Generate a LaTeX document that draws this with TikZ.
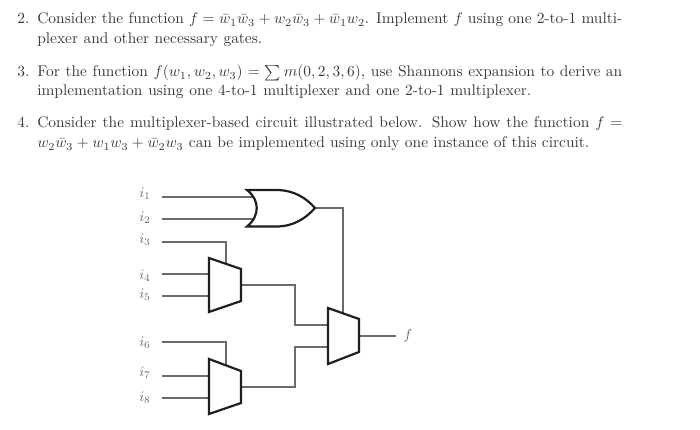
\documentclass[tikz,border=0pt]{standalone}
\usepackage{amsmath}
\newcommand{\fitline}[2]{\makebox[#1pt][s]{#2}}
\tikzset{
  linetext/.style={anchor=base west,inner sep=0pt,text=black!78,font=\fontsize{10}{12}\selectfont,scale=1.546,transform shape},
  inlabel/.style={inner sep=0pt,text=black!60,font=\fontsize{10}{12}\selectfont,scale=1.45,transform shape},
  wire/.style={draw=black!58,line width=1.6pt},
  gate/.style={draw=black!88,line width=2.2pt,line join=miter}
}
\begin{document}
\begin{tikzpicture}[x=1pt,y=-1pt]
  \useasboundingbox (0,0) rectangle (700,430);
  \draw
    (17,24) node[linetext] (n2){2.}
    (37,24) node[linetext] (t1){\fitline{378.4}{Consider the function $f=\bar{w}_1\bar{w}_3+w_2\bar{w}_3+\bar{w}_1w_2$. Implement $f$ using one 2-to-1 multi-}}
    (37,43.5) node[linetext] (t2){\fitline{145.5}{plexer and other necessary gates.}}
    (17,77) node[linetext] (n3){3.}
    (37,77) node[linetext] (t3){\fitline{378.4}{For the function $f(w_1,w_2,w_3)=\sum m(0,2,3,6)$, use Shannons expansion to derive an}}
    (37,96) node[linetext] (t4){\fitline{319.5}{implementation using one 4-to-1 multiplexer and one 2-to-1 multiplexer.}}
    (17,128) node[linetext] (n4){4.}
    (37,128) node[linetext] (t5){\fitline{378.4}{Consider the multiplexer-based circuit illustrated below. Show how the function $f=$}}
    (37,148) node[linetext] (t6){\fitline{357}{$w_2\bar{w}_3+w_1w_3+\bar{w}_2w_3$ can be implemented using only one instance of this circuit.}};
  \draw
    (145,194) node[inlabel] (i1){$i_1$}
    (145,218) node[inlabel] (i2){$i_2$}
    (145,240) node[inlabel] (i3){$i_3$}
    (145,276) node[inlabel] (i4){$i_4$}
    (145,295) node[inlabel] (i5){$i_5$}
    (145,343) node[inlabel] (i6){$i_6$}
    (145,373) node[inlabel] (i7){$i_7$}
    (145,398) node[inlabel] (i8){$i_8$}
    (408,336) node[inlabel] (f){$f$};
  % free ends of the input wires
  \foreach \n/\y in {1/197,2/219,3/242,4/274,5/296,6/342,7/376,8/398}
    \coordinate (s\n) at (162,\y);
  \coordinate (oa) at (253,197);
  \coordinate (ob) at (253,219);
  \coordinate (oo) at (315,208);
  \coordinate (ma1) at (209,274);
  \coordinate (ma2) at (209,296);
  \coordinate (mas) at (226,264);
  \coordinate (mao) at (241,285);
  \coordinate (mb1) at (209,376);
  \coordinate (mb2) at (209,398);
  \coordinate (mbs) at (226,365);
  \coordinate (mbo) at (241,387);
  \coordinate (mc1) at (328,325);
  \coordinate (mc2) at (328,347);
  \coordinate (mcs) at (343,313);
  \coordinate (mco) at (359,336);
  \coordinate (fe) at (396,336);
  \begin{scope}[wire]
    \draw (s1) -- (oa);
    \draw (s2) -- (ob);
    \draw (s3) -| (mas);
    \draw (s4) -- (ma1);
    \draw (s5) -- (ma2);
    \draw (s6) -| (mbs);
    \draw (s7) -- (mb1);
    \draw (s8) -- (mb2);
    \draw (oo) -| (mcs);
    \draw (mao) -| (295,325) -- (mc1);
    \draw (mbo) -| (295,347) -- (mc2);
    \draw (mco) -- (fe);
  \end{scope}
  \begin{scope}[gate]
    \draw (209,258) -- (241,269) -- (241,301) -- (209,312) -- cycle;
    \draw (209,359) -- (241,371) -- (241,403) -- (209,414) -- cycle;
    \draw (328,308) -- (359,319) -- (359,352) -- (328,364) -- cycle;
    \draw (247,190) -- (276,190) .. controls (294,190) and (306,198) .. (oo)
      .. controls (306,218) and (294,226.5) .. (276,226.5) -- (247,226.5)
      .. controls (260,216) and (260,200) .. cycle;
  \end{scope}
\end{tikzpicture}
\end{document}
